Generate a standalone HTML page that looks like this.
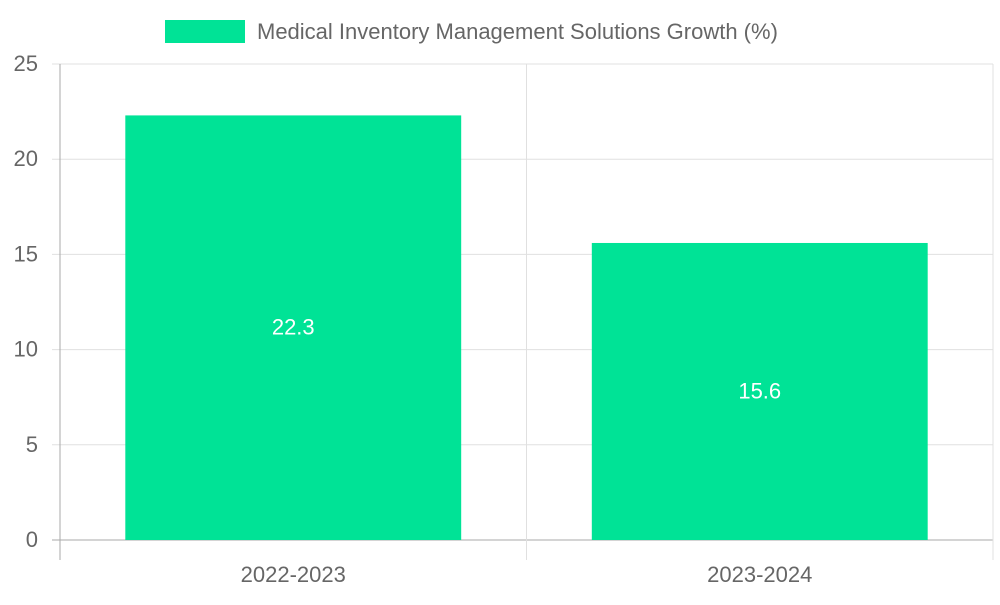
<!DOCTYPE html>
<html><head><meta charset="utf-8"><style>
body{margin:0;background:#fff;font-family:"Liberation Sans",sans-serif}
svg text{font-family:"Liberation Sans",sans-serif}
</style></head><body>
<svg width="1000" height="600" xmlns="http://www.w3.org/2000/svg">
<g>
<rect x="165" y="20" width="80" height="23" fill="#00e396"/>
<text x="257" y="39" font-size="22" fill="#666">Medical Inventory Management Solutions Growth (%)</text>
</g>
<g id="grid"></g>
<g id="bars"></g>
<g id="axes"></g>
</svg>
<script>
const categories=["2022-2023","2023-2024"];
const values=[22.3,15.6];
const yTicks=[0,5,10,15,20,25];
const L=60,R=993,T=64,B=540,yMax=25;
const ns="http://www.w3.org/2000/svg";
const y=v=>B-(v/yMax)*(B-T);
const cw=(R-L)/categories.length;
const x=i=>L+cw*i;
function mk(p,tag,a,txt){const e=document.createElementNS(ns,tag);for(const k in a)e.setAttribute(k,a[k]);if(txt!==undefined)e.textContent=txt;p.appendChild(e);return e;}
const g=document.getElementById('grid'),b=document.getElementById('bars'),ax=document.getElementById('axes');
yTicks.forEach(t=>{
 const ln=mk(g,'line',{x1:52,x2:R,y1:y(t),y2:y(t),stroke:t===0?'#aaa':'#e0e0e0','stroke-width':1});
 
 
 const tx=mk(ax,'text',{x:38,y:y(t)+7,'font-size':22,fill:'#666','text-anchor':'end'},t);
 
 
});
for(let i=1;i<=categories.length;i++){
 const ln=mk(g,'line',{x1:x(i),x2:x(i),y1:T,y2:560,stroke:'#e0e0e0','stroke-width':1});
 
 
}
const la=mk(ax,'line',{x1:L,x2:L,y1:T,y2:560,stroke:'#aaa','stroke-width':1});


categories.forEach((c,i)=>{
 const bw=cw*0.72,bx=x(i)+(cw-bw)/2;
 const r=mk(b,'rect',{x:bx,y:y(values[i]),width:bw,height:B-y(values[i]),fill:'#00e396'});
 
 
 const vl=mk(b,'text',{x:bx+bw/2,y:(y(values[i])+B)/2+7,'font-size':22,fill:'#fff','text-anchor':'middle'},values[i]);
 
 
 const cl=mk(ax,'text',{x:bx+bw/2,y:582,'font-size':22,fill:'#666','text-anchor':'middle'},c);
 
 
});
</script>
</body></html>
